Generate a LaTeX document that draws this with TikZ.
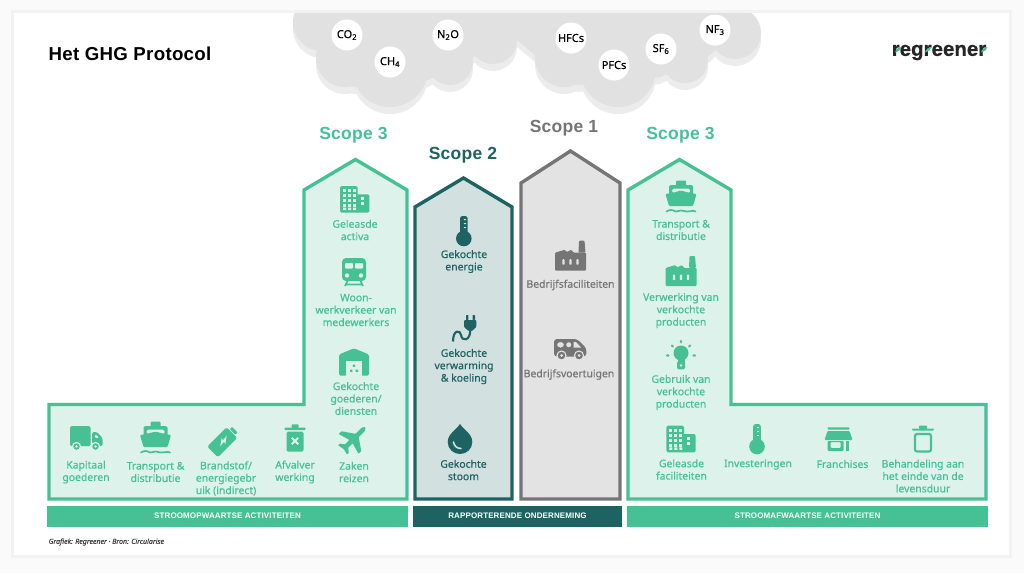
\documentclass[tikz,border=0pt]{standalone}
\usepackage{fontspec}
\setmainfont[FakeBold=0.45]{Noto Sans}
\newfontfamily\headfont[LetterSpace=1.5]{Liberation Sans}
\newfontfamily\logofont[FakeBold=0.6]{Liberation Sans}
\usepackage{tikz}
\usetikzlibrary{positioning}
\definecolor{greenmain}{HTML}{46C196}
\definecolor{greenlight}{HTML}{DCF2EA}
\definecolor{darkmain}{HTML}{1D6362}
\definecolor{darklight}{HTML}{D2E0E0}
\definecolor{greymain}{HTML}{757575}
\definecolor{greylight}{HTML}{E3E3E3}
\definecolor{cloudmain}{HTML}{E1E1E1}
\definecolor{cloudshade}{HTML}{ECECEC}
\tikzstyle{house} = [line width=3.4pt, miter limit=10]
\tikzstyle{caption} = [align=center, inner sep=0pt, font=\fontsize{10.4}{12.4}\selectfont]
\tikzstyle{scopename} = [inner sep=0pt, font=\headfont\bfseries\fontsize{17.5}{18}\selectfont]
\tikzstyle{band} = [inner sep=0pt, minimum height=21pt, text=white, font=\headfont\bfseries\fontsize{8}{9}\selectfont]
\tikzstyle{gas} = [circle, fill=white, minimum size=31pt, inner sep=0pt, text=black, font=\fontsize{11}{12}\selectfont]
\newcommand{\cloudshape}{(317,50) -- (353,87) -- (428,80) -- (472,57) -- (517,40) -- (535,55) -- (577,85) -- (660,77) -- (710,55) -- (735,30) -- (735,13) -- (322,13) -- cycle}
\tikzset{
  pics/truck/.style={code={
    \fill[#1main, rounded corners=1.5pt] (-16,-12) rectangle (4.5,8);
    \fill[#1main, rounded corners=1.5pt, even odd rule] (6,-6) -- (11,-6) -- (16.5,0) -- (16.5,8) -- (6,8) -- cycle
      (8.5,-3.5) -- (10.5,-3.5) -- (13.5,0) -- (8.5,0) -- cycle;
    \foreach \wx in {-9.5,9.5} {\fill[#1main, draw=#1light, line width=1.2pt] (\wx,8.5) circle (4pt);
      \fill[#1light] (\wx,8.5) circle (1.3pt);}
  }},
  pics/ship/.style={code={
    \fill[#1main, rounded corners=1pt] (-5,-16.5) rectangle (5,-11);
    \fill[#1main, rounded corners=1.5pt, even odd rule] (-12,-12) rectangle (12,2) (-9,-8.5) rectangle (9,-4);
    \fill[#1main, rounded corners=1pt] (-15.5,-3) -- (-9,-4) -- (0,-6.5) -- (9,-4) -- (15.5,-3) -- (12,9) -- (-12,9) -- cycle;
    \draw[#1main, line width=1.7pt, line cap=round] (-14.5,14.5) .. controls (-11,12.5) and (-9,12.5) .. (-5.5,14.5)
      .. controls (-3,15.5) and (-2,12.5) .. (0,13.5) .. controls (3,15.5) and (3,12.5) .. (5.5,14.5)
      .. controls (9,15.5) and (11,12.5) .. (14.5,14.5);
  }},
  pics/battery/.style={code={
    \begin{scope}[rotate=45]
      \fill[#1main, rounded corners=1.5pt] (-15.5,-7.5) rectangle (12,7.5);
      \fill[#1main, rounded corners=.8pt] (12.8,-4) rectangle (16,4);
      \fill[#1light] (-6,1.5) -- (1,-3.5) -- (0,-.8) -- (6,-1.5) -- (-1,3.5) -- (0,.8) -- cycle;
    \end{scope}
  }},
  pics/wastebin/.style={code={
    \fill[#1main, rounded corners=.8pt] (-10.5,-10.5) rectangle (10.5,-8);
    \fill[#1main, rounded corners=.8pt] (-3.5,-13.7) rectangle (3.5,-10);
    \fill[#1main, rounded corners=1.5pt] (-8.5,-6.5) rectangle (8.5,13.7);
    \draw[#1light, line width=1.9pt] (-3.2,-.2) -- (3.2,6.2) (3.2,-.2) -- (-3.2,6.2);
  }},
  pics/plane/.style={code={
    \begin{scope}[rotate=45]
      \fill[#1main, rounded corners=.8pt] (17,0) -- (14,-2.3) -- (5,-2.3) -- (-3,-14) -- (-7,-14) -- (-3.5,-2.3) -- (-10,-2.3) -- (-13,-6.5) -- (-15.5,-6.5) -- (-14,0)
        -- (-15.5,6.5) -- (-13,6.5) -- (-10,2.3) -- (-3.5,2.3) -- (-7,14) -- (-3,14) -- (5,2.3) -- (14,2.3) -- cycle;
    \end{scope}
  }},
  pics/building/.style={code={
    \fill[#1main, rounded corners=1.5pt] (-14.7,-13.3) rectangle (3,13.3);
    \fill[#1main, rounded corners=1.5pt] (0,-5) rectangle (14.7,13.3);
    \foreach \bx in {-11.7,-6.7,-1.7} \foreach \by in {-10.3,-5.3,-.3,4.7} \fill[#1light] (\bx,\by) rectangle ++(3,3);
    \foreach \by in {-2,3} \fill[#1light] (5.8,\by) rectangle ++(3,2.6);
    \fill[#1light] (-11.7,8.3) rectangle ++(3,2.6) (-6.7,8.3) rectangle ++(3,2.6) (-1.7,8.3) rectangle ++(3,2.6);
  }},
  pics/train/.style={code={
    \fill[#1main, rounded corners=4pt] (-12,-14) rectangle (12,9);
    \fill[#1light, rounded corners=.8pt] (-9,-9) rectangle (-1,-3.5) (1,-9) rectangle (9,-3.5);
    \fill[#1light] (-7,3.5) circle (2.2pt) (7,3.5) circle (2.2pt);
    \draw[#1main, line width=1.7pt] (-6,8) -- (-9,14) (6,8) -- (9,14) (-8,12.5) -- (8,12.5);
  }},
  pics/warehouse/.style={code={
    \fill[#1main, rounded corners=1.5pt] (-15,-7.5) -- (0,-13.7) -- (15,-7.5) -- (15,13.7) -- (-15,13.7) -- cycle;
    \fill[#1light] (-8,-1) rectangle (8,14);
    \fill[#1main] (-1.2,2.5) rectangle ++(2.4,2.4) (-4,7.5) rectangle ++(2.4,2.4) (1.6,7.5) rectangle ++(2.4,2.4);
  }},
  pics/thermometer/.style={code={
    \fill[#1main, rounded corners=2.5pt] (-3.8,-15) rectangle (3.8,6);
    \fill[#1main] (0,7.5) circle (7.8pt);
    \fill[#1light] (0,-12) rectangle (2.2,-10.8) (0,-8) rectangle (2.2,-6.8) (0,-4) rectangle (2.2,-2.8);
  }},
  pics/plug/.style={code={
    \fill[#1main, rounded corners=.6pt] (2,-13) rectangle (4.4,-8) (8.6,-13) rectangle (11,-8);
    \fill[#1main, rounded corners=1pt] (0,-8) -- (12.3,-8) -- (12.3,-1) -- (8,3) -- (4.5,3) -- (0,-1) -- cycle;
    \draw[#1main, line width=2.1pt] (6.3,2) .. controls (6.3,13) and (-2,14) .. (-3,7)
      .. controls (-3.5,2) and (-11,1) .. (-11,13.5);
  }},
  pics/droplet/.style={code={
    \fill[#1main] (0,-15) .. controls (4,-9) and (12.3,-5) .. (12.3,3) .. controls (12.3,10) and (6.5,15) .. (0,15)
      .. controls (-6.5,15) and (-12.3,10) .. (-12.3,3) .. controls (-12.3,-5) and (-4,-9) .. (0,-15) -- cycle;
    \draw[#1light, line width=1.6pt, line cap=round] (-6.5,3) .. controls (-6,7) and (-3,9.5) .. (1,9.5);
  }},
  pics/factory/.style={code={
    \fill[#1main, rounded corners=1pt] (8.5,-15) -- (14,-15) -- (15,-3) -- (8,-3) -- cycle;
    \fill[#1main, rounded corners=1pt] (-15.5,-3) -- (-5.5,-6) -- (-4,-3.5) -- (1,-6) -- (3,-3) -- (15.5,-3) -- (15.5,15) -- (-15.5,15) -- cycle;
    \foreach \fx in {-7,0,7} \fill[#1light, rounded corners=.8pt] (\fx-1.2,3.5) rectangle (\fx+1.2,9);
  }},
  pics/van/.style={code={
    \fill[#1main, rounded corners=3pt, even odd rule] (-16,-10) -- (7,-10) -- (16.3,-1) -- (16.3,7.5) -- (-16,7.5) -- cycle
      (-13,-7) rectangle (-6,-1.5) (-4,-7) rectangle (1.5,-1.5);
    \fill[#1light] (3.5,-7) -- (6,-7) -- (11,-1.5) -- (3.5,-1.5) -- cycle;
    \foreach \wx in {-8.5,9} {\fill[#1main, draw=#1light, line width=1.1pt] (\wx,6.5) circle (4.5pt);
      \fill[#1light] (\wx,6.5) circle (1.5pt);}
  }},
  pics/bulb/.style={code={
    \fill[#1main] (0,-2) circle (7.5pt);
    \fill[#1main] (-3.5,3) rectangle (3.5,7);
    \fill[#1main, rounded corners=1.5pt, even odd rule] (-4,6) rectangle (4,14.3) (-1.7,9) rectangle (1.7,12);
    \draw[#1main, line width=2.2pt, line cap=round] (0,-14) -- (0,-12.8) (-9,-9.5) -- (-8.2,-8.5) (9,-9.5) -- (8.2,-8.5) (-14,.5) -- (-12.5,.5) (14,.5) -- (12.5,.5);
  }},
  pics/shop/.style={code={
    \fill[#1main, rounded corners=.8pt] (-11,-11.7) rectangle (11,-9.5);
    \fill[#1main, rounded corners=1pt] (-11,-8) -- (11,-8) -- (14,1) -- (-14,1) -- cycle;
    \fill[#1main, rounded corners=1pt, even odd rule] (-11,2) rectangle (5,12) (-8,3) rectangle (2,9);
    \fill[#1main] (7,2) rectangle (10.5,12);
  }},
  pics/trashcan/.style={code={
    \fill[#1main, rounded corners=.8pt] (-11,-10.5) rectangle (11,-8.5);
    \fill[#1main, rounded corners=.8pt] (-4,-13.5) rectangle (4,-10);
    \draw[#1main, line width=2.2pt, rounded corners=2pt] (-8,-5) rectangle (8,12.5);
  }}
}

\begin{document}
\begin{tikzpicture}[x=1pt, y=-1pt]
    \useasboundingbox (0,0) rectangle (1024,573);

    % Card
    \fill[black!2] (0,0) rectangle (1024,573);
    \fill[black!5] (11,10) rectangle (1012,558);
    \fill[white] (14,13) rectangle (1009,555);

    % Clouds
    \begin{scope}
      \clip (14,13) rectangle (1009,555);
      \foreach \cx/\cy/\cr in {322/22/29,345/58/29,390/69/38,450/62/23,493/40/24,
                               540/24/26,564/58/29,618/69/38,685/60/23,735/33/26}
        \fill[cloudshade] (\cx,\cy+7) circle (\cr pt);
      \fill[cloudshade, yshift=-7pt] \cloudshape;
      \foreach \cx/\cy/\cr in {322/22/29,345/58/29,390/69/38,450/62/23,493/40/24,
                               540/24/26,564/58/29,618/69/38,685/60/23,735/33/26}
        \fill[cloudmain] (\cx,\cy) circle (\cr pt);
      \fill[cloudmain] \cloudshape;
    \end{scope}

    % Gases
    \node [gas] (co) at (347,35) {CO\textsubscript{2}};
    \node [gas] (ch) at (390,62) {CH\textsubscript{4}};
    \node [gas] (no) at (448,35) {N\textsubscript{2}O};
    \node [gas] (hfc) at (571,38) {HFCs};
    \node [gas] (pfc) at (614,65) {PFCs};
    \node [gas] (sf) at (661,49) {SF\textsubscript{6}};
    \node [gas] (nf) at (715,30) {NF\textsubscript{3}};

    % Title and logo
    \node [anchor=west, inner sep=0pt, font=\headfont\bfseries\fontsize{18.7}{20}\selectfont] (title) at (48.5,54) {Het GHG Protocol};
    \node [inner sep=0pt, text=black!85, font=\logofont\bfseries\fontsize{20.5}{20}\selectfont] (logo) at (939,52.5) {regreener};
    \foreach \lx in {898,928,984}
      \fill[greenmain] (\lx-3,52.5) .. controls (\lx-2,49) and (\lx,47.5) .. (\lx+3.5,47) .. controls (\lx+3,50) and (\lx,52) .. (\lx-3,52.5) -- cycle;

    % Houses
    \draw[house, draw=greenmain, fill=greenlight] (49,404.5) -- (304,404.5) -- (304,190) -- (355.5,159.5) -- (407,190) -- (407,499) -- (49,499) -- cycle;
    \draw[house, draw=darkmain, fill=darklight] (415,207) -- (463.5,178) -- (512,207) -- (512,499) -- (415,499) -- cycle;
    \draw[house, draw=greymain, fill=greylight] (521,183) -- (570.5,151) -- (620,183) -- (620,499) -- (521,499) -- cycle;
    \draw[house, draw=greenmain, fill=greenlight] (628,190) -- (679.5,159.5) -- (731,190) -- (731,404.5) -- (986,404.5) -- (986,499) -- (628,499) -- cycle;

    % Scope names
    \node [scopename, text=greenmain] (scopeupper) at (353.5,135) {Scope 3};
    \node [scopename, text=darkmain] (scopetwo) at (463,155) {Scope 2};
    \node [scopename, text=greymain] (scopeone) at (564,128) {Scope 1};
    \node [scopename, text=greenmain] (scopelower) at (680.5,135) {Scope 3};

    % Bands
    \node [band, fill=greenmain, minimum width=361pt] (upstream) at (227.5,516) {STROOMOPWAARTSE ACTIVITEITEN};
    \node [band, fill=darkmain, minimum width=209pt] (reporting) at (517.5,516) {RAPPORTERENDE ONDERNEMING};
    \node [band, fill=greenmain, minimum width=361pt] (downstream) at (807.5,516) {STROOMAFWAARTSE ACTIVITEITEN};

    % Icons
    \pic at (354.7,199.3) {building=green};
    \pic at (354,272) {train=green};
    \pic at (354,362) {warehouse=green};
    \pic at (86,438) {truck=green};
    \pic at (155.5,438) {ship=green};
    \pic at (223.5,441) {battery=green};
    \pic at (295,438) {wastebin=green};
    \pic at (353.5,439) {plane=green};
    \pic at (463.8,231) {thermometer=dark};
    \pic at (464,328) {plug=dark};
    \pic at (460,439) {droplet=dark};
    \pic at (570.5,255.7) {factory=grey};
    \pic at (570,349) {van=grey};
    \pic at (681,197) {ship=green};
    \pic at (681,271) {factory=green};
    \pic at (681,355) {bulb=green};
    \pic at (681,439) {building=green};
    \pic at (757,439) {thermometer=green};
    \pic at (838.5,439) {shop=green};
    \pic at (923,439) {trashcan=green};

    % Captions
    \begin{scope}[every node/.append style={caption, text=greenmain}]
      \node (leased) at (355,230) {Geleasde\\activa};
      \node (commute) at (356,310) {Woon-\\werkverkeer van\\medewerkers};
      \node (goods) at (356,398.5) {Gekochte\\goederen/\\diensten};
      \node (capital) at (86,472) {Kapitaal\\goederen};
      \node (transportup) at (155.5,472) {Transport \&\\distributie};
      \node (fuel) at (226,478.5) {Brandstof/\\energiegebr\\uik (indirect)};
      \node (waste) at (295,472) {Afvalver\\werking};
      \node (travel) at (354,472) {Zaken\\reizen};
      \node (transportdown) at (681,230) {Transport \&\\distributie};
      \node (processing) at (681,310.5) {Verwerking van\\verkochte\\producten};
      \node (usage) at (681,392.5) {Gebruik van\\verkochte\\producten};
      \node (facilities) at (681.5,469.5) {Geleasde\\faciliteiten};
      \node (invest) at (758,464.5) {Investeringen};
      \node (franchise) at (842.5,464) {Franchises};
      \node (endoflife) at (923,476) {Behandeling aan\\het einde van de\\levensduur};
    \end{scope}
    \begin{scope}[every node/.append style={caption, text=darkmain}]
      \node (energy) at (464,261.5) {Gekochte\\energie};
      \node (heating) at (464,366.5) {Gekochte\\verwarming\\\& koeling};
      \node (steam) at (463.5,470) {Gekochte\\stoom};
    \end{scope}
    \begin{scope}[every node/.append style={caption, text=greymain}]
      \node (sites) at (570.5,285) {Bedrijfsfaciliteiten};
      \node (vehicles) at (569,374.5) {Bedrijfsvoertuigen};
    \end{scope}

    % Source
    \node [anchor=west, inner sep=0pt, text=black!75, font=\itshape\fontsize{7}{8}\selectfont] (source) at (48.5,542) {Grafiek: Regreener · Bron: Circularise};
\end{tikzpicture}
\end{document}
